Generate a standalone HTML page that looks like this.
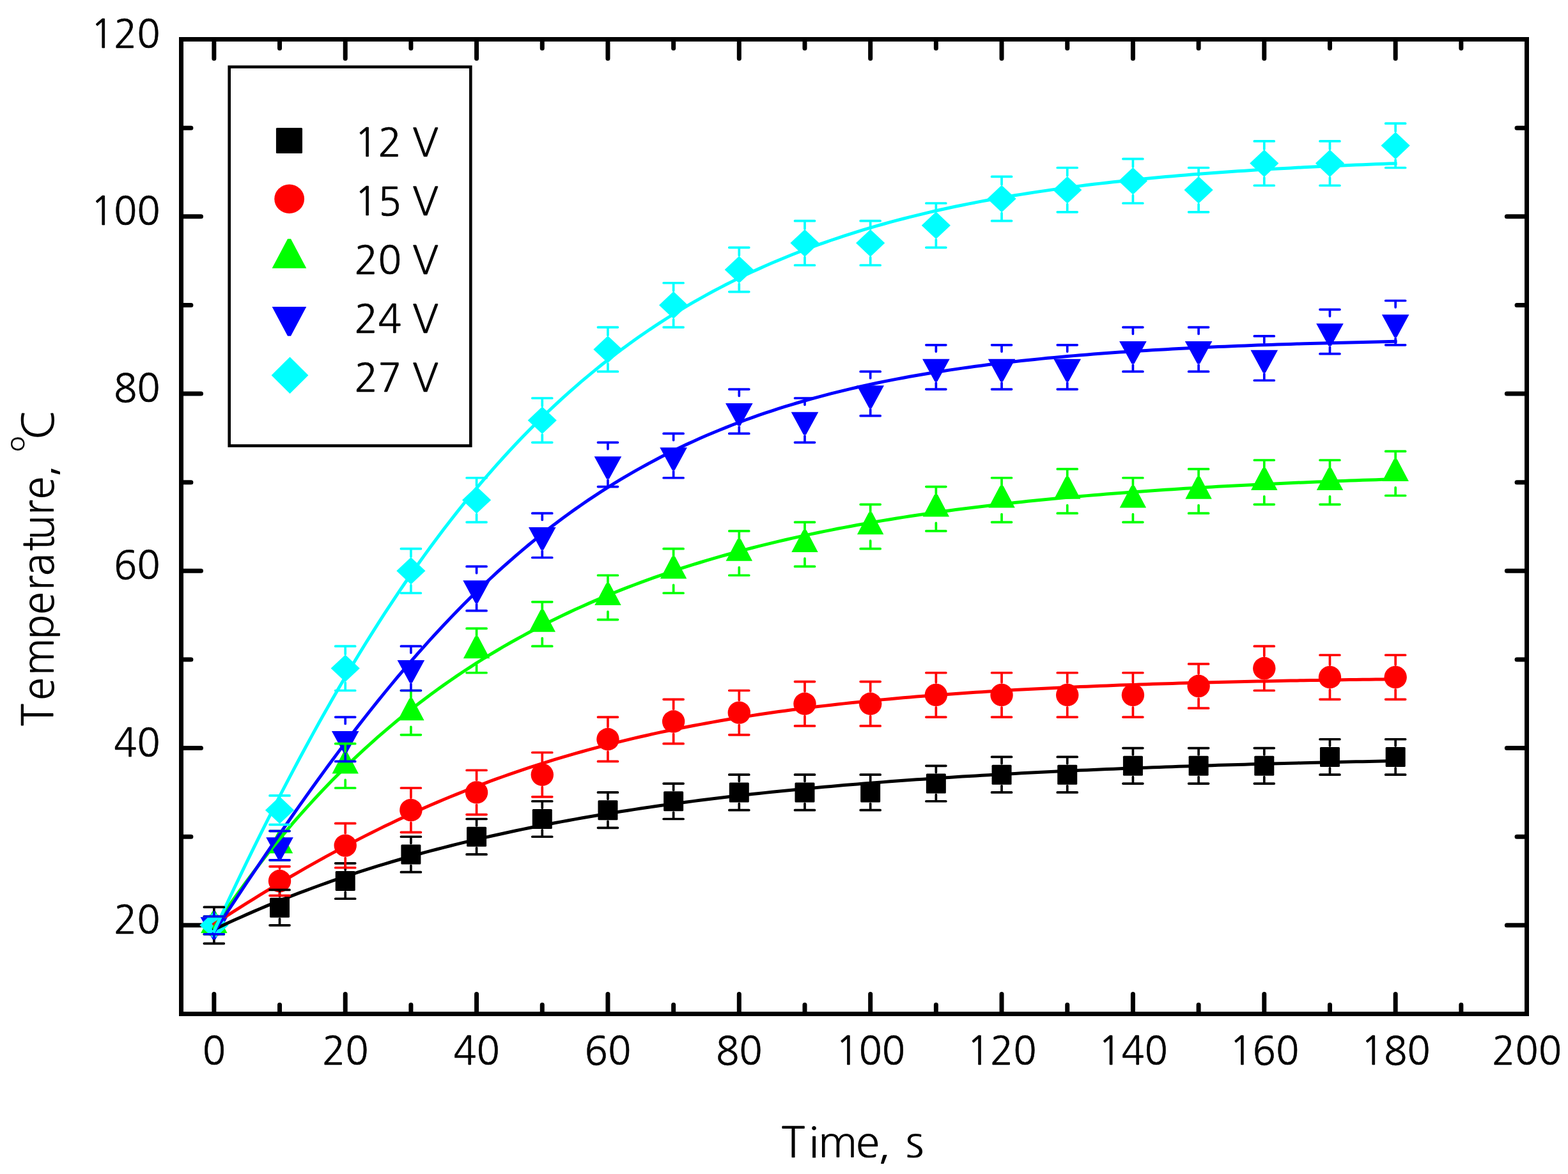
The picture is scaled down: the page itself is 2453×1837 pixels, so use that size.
<!DOCTYPE html>
<html><head><meta charset="utf-8"><style>html,body{margin:0;padding:0;background:#fff}svg{display:block}</style></head>
<body>
<svg width="2453" height="1837" viewBox="0 0 2453 1837">
<rect width="2453" height="1837" fill="#fff"/>
<rect x="283.5" y="61.5" width="2105.0" height="1525.0" fill="none" stroke="#000" stroke-width="7"/>
<path d="M334.84,1586.5V1555.5M334.84,61.5V91.5M437.52,1586.5V1572.2M437.52,61.5V75.5M540.21,1586.5V1555.5M540.21,61.5V91.5M642.89,1586.5V1572.2M642.89,61.5V75.5M745.57,1586.5V1555.5M745.57,61.5V91.5M848.26,1586.5V1572.2M848.26,61.5V75.5M950.94,1586.5V1555.5M950.94,61.5V91.5M1053.62,1586.5V1572.2M1053.62,61.5V75.5M1156.3,1586.5V1555.5M1156.3,61.5V91.5M1258.99,1586.5V1572.2M1258.99,61.5V75.5M1361.67,1586.5V1555.5M1361.67,61.5V91.5M1464.35,1586.5V1572.2M1464.35,61.5V75.5M1567.04,1586.5V1555.5M1567.04,61.5V91.5M1669.72,1586.5V1572.2M1669.72,61.5V75.5M1772.4,1586.5V1555.5M1772.4,61.5V91.5M1875.09,1586.5V1572.2M1875.09,61.5V75.5M1977.77,1586.5V1555.5M1977.77,61.5V91.5M2080.45,1586.5V1572.2M2080.45,61.5V75.5M2183.13,1586.5V1555.5M2183.13,61.5V91.5M2285.82,1586.5V1572.2M2285.82,61.5V75.5M283.5,1447.86H314.5M2388.5,1447.86H2357.3M283.5,1309.23H298.9M2388.5,1309.23H2373M283.5,1170.59H314.5M2388.5,1170.59H2357.3M283.5,1031.95H298.9M2388.5,1031.95H2373M283.5,893.32H314.5M2388.5,893.32H2357.3M283.5,754.68H298.9M2388.5,754.68H2373M283.5,616.05H314.5M2388.5,616.05H2357.3M283.5,477.41H298.9M2388.5,477.41H2373M283.5,338.77H314.5M2388.5,338.77H2357.3M283.5,200.14H298.9M2388.5,200.14H2373" stroke="#000" stroke-width="7" stroke-linecap="round" fill="none"/>
<g id="markers">
<rect x="319.34" y="1432.36" width="31" height="31" rx="1.5" fill="#000000"/>
<rect x="422.02" y="1404.64" width="31" height="31" rx="1.5" fill="#000000"/>
<rect x="524.71" y="1363.05" width="31" height="31" rx="1.5" fill="#000000"/>
<rect x="627.39" y="1321.45" width="31" height="31" rx="1.5" fill="#000000"/>
<rect x="730.07" y="1293.73" width="31" height="31" rx="1.5" fill="#000000"/>
<rect x="832.76" y="1266" width="31" height="31" rx="1.5" fill="#000000"/>
<rect x="935.44" y="1252.14" width="31" height="31" rx="1.5" fill="#000000"/>
<rect x="1038.12" y="1238.27" width="31" height="31" rx="1.5" fill="#000000"/>
<rect x="1140.8" y="1224.41" width="31" height="31" rx="1.5" fill="#000000"/>
<rect x="1243.49" y="1224.41" width="31" height="31" rx="1.5" fill="#000000"/>
<rect x="1346.17" y="1224.41" width="31" height="31" rx="1.5" fill="#000000"/>
<rect x="1448.85" y="1210.55" width="31" height="31" rx="1.5" fill="#000000"/>
<rect x="1551.54" y="1196.68" width="31" height="31" rx="1.5" fill="#000000"/>
<rect x="1654.22" y="1196.68" width="31" height="31" rx="1.5" fill="#000000"/>
<rect x="1756.9" y="1182.82" width="31" height="31" rx="1.5" fill="#000000"/>
<rect x="1859.59" y="1182.82" width="31" height="31" rx="1.5" fill="#000000"/>
<rect x="1962.27" y="1182.82" width="31" height="31" rx="1.5" fill="#000000"/>
<rect x="2064.95" y="1168.95" width="31" height="31" rx="1.5" fill="#000000"/>
<rect x="2167.63" y="1168.95" width="31" height="31" rx="1.5" fill="#000000"/>
<circle cx="334.84" cy="1447.86" r="17.7" fill="#FF0000"/>
<circle cx="437.52" cy="1378.55" r="17.7" fill="#FF0000"/>
<circle cx="540.21" cy="1323.09" r="17.7" fill="#FF0000"/>
<circle cx="642.89" cy="1267.64" r="17.7" fill="#FF0000"/>
<circle cx="745.57" cy="1239.91" r="17.7" fill="#FF0000"/>
<circle cx="848.26" cy="1212.18" r="17.7" fill="#FF0000"/>
<circle cx="950.94" cy="1156.73" r="17.7" fill="#FF0000"/>
<circle cx="1053.62" cy="1129" r="17.7" fill="#FF0000"/>
<circle cx="1156.3" cy="1115.14" r="17.7" fill="#FF0000"/>
<circle cx="1258.99" cy="1101.27" r="17.7" fill="#FF0000"/>
<circle cx="1361.67" cy="1101.27" r="17.7" fill="#FF0000"/>
<circle cx="1464.35" cy="1087.41" r="17.7" fill="#FF0000"/>
<circle cx="1567.04" cy="1087.41" r="17.7" fill="#FF0000"/>
<circle cx="1669.72" cy="1087.41" r="17.7" fill="#FF0000"/>
<circle cx="1772.4" cy="1087.41" r="17.7" fill="#FF0000"/>
<circle cx="1875.09" cy="1073.55" r="17.7" fill="#FF0000"/>
<circle cx="1977.77" cy="1045.82" r="17.7" fill="#FF0000"/>
<circle cx="2080.45" cy="1059.68" r="17.7" fill="#FF0000"/>
<circle cx="2183.13" cy="1059.68" r="17.7" fill="#FF0000"/>
<polygon points="332.24,1425.66 337.44,1425.66 355.54,1460.06 314.14,1460.06" fill="#00FF00"/>
<polygon points="434.92,1300.89 440.12,1300.89 458.22,1335.29 416.82,1335.29" fill="#00FF00"/>
<polygon points="537.61,1176.12 542.81,1176.12 560.91,1210.52 519.51,1210.52" fill="#00FF00"/>
<polygon points="640.29,1092.94 645.49,1092.94 663.59,1127.34 622.19,1127.34" fill="#00FF00"/>
<polygon points="742.97,995.89 748.17,995.89 766.27,1030.29 724.87,1030.29" fill="#00FF00"/>
<polygon points="845.66,954.3 850.86,954.3 868.96,988.7 827.56,988.7" fill="#00FF00"/>
<polygon points="948.34,912.71 953.54,912.71 971.64,947.11 930.24,947.11" fill="#00FF00"/>
<polygon points="1051.02,871.12 1056.22,871.12 1074.32,905.52 1032.92,905.52" fill="#00FF00"/>
<polygon points="1153.7,843.39 1158.9,843.39 1177,877.79 1135.6,877.79" fill="#00FF00"/>
<polygon points="1256.39,829.53 1261.59,829.53 1279.69,863.93 1238.29,863.93" fill="#00FF00"/>
<polygon points="1359.07,801.8 1364.27,801.8 1382.37,836.2 1340.97,836.2" fill="#00FF00"/>
<polygon points="1461.75,774.07 1466.95,774.07 1485.05,808.47 1443.65,808.47" fill="#00FF00"/>
<polygon points="1564.44,760.21 1569.64,760.21 1587.74,794.61 1546.34,794.61" fill="#00FF00"/>
<polygon points="1667.12,746.35 1672.32,746.35 1690.42,780.75 1649.02,780.75" fill="#00FF00"/>
<polygon points="1769.8,760.21 1775,760.21 1793.1,794.61 1751.7,794.61" fill="#00FF00"/>
<polygon points="1872.49,746.35 1877.69,746.35 1895.79,780.75 1854.39,780.75" fill="#00FF00"/>
<polygon points="1975.17,732.48 1980.37,732.48 1998.47,766.88 1957.07,766.88" fill="#00FF00"/>
<polygon points="2077.85,732.48 2083.05,732.48 2101.15,766.88 2059.75,766.88" fill="#00FF00"/>
<polygon points="2180.53,718.62 2185.73,718.62 2203.83,753.02 2162.43,753.02" fill="#00FF00"/>
<polygon points="313.54,1435.06 356.14,1435.06 336.84,1470.46 332.84,1470.46" fill="#0000FF"/>
<polygon points="416.22,1310.29 458.82,1310.29 439.52,1345.69 435.52,1345.69" fill="#0000FF"/>
<polygon points="518.91,1143.93 561.51,1143.93 542.21,1179.33 538.21,1179.33" fill="#0000FF"/>
<polygon points="621.59,1033.02 664.19,1033.02 644.89,1068.42 640.89,1068.42" fill="#0000FF"/>
<polygon points="724.27,908.25 766.87,908.25 747.57,943.65 743.57,943.65" fill="#0000FF"/>
<polygon points="826.96,825.06 869.56,825.06 850.26,860.46 846.26,860.46" fill="#0000FF"/>
<polygon points="929.64,714.15 972.24,714.15 952.94,749.55 948.94,749.55" fill="#0000FF"/>
<polygon points="1032.32,700.29 1074.92,700.29 1055.62,735.69 1051.62,735.69" fill="#0000FF"/>
<polygon points="1135,630.97 1177.6,630.97 1158.3,666.37 1154.3,666.37" fill="#0000FF"/>
<polygon points="1237.69,644.84 1280.29,644.84 1260.99,680.24 1256.99,680.24" fill="#0000FF"/>
<polygon points="1340.37,603.25 1382.97,603.25 1363.67,638.65 1359.67,638.65" fill="#0000FF"/>
<polygon points="1443.05,561.65 1485.65,561.65 1466.35,597.05 1462.35,597.05" fill="#0000FF"/>
<polygon points="1545.74,561.65 1588.34,561.65 1569.04,597.05 1565.04,597.05" fill="#0000FF"/>
<polygon points="1648.42,561.65 1691.02,561.65 1671.72,597.05 1667.72,597.05" fill="#0000FF"/>
<polygon points="1751.1,533.93 1793.7,533.93 1774.4,569.33 1770.4,569.33" fill="#0000FF"/>
<polygon points="1853.79,533.93 1896.39,533.93 1877.09,569.33 1873.09,569.33" fill="#0000FF"/>
<polygon points="1956.47,547.79 1999.07,547.79 1979.77,583.19 1975.77,583.19" fill="#0000FF"/>
<polygon points="2059.15,506.2 2101.75,506.2 2082.45,541.6 2078.45,541.6" fill="#0000FF"/>
<polygon points="2161.83,492.34 2204.43,492.34 2185.13,527.74 2181.13,527.74" fill="#0000FF"/>
<polygon points="334.84,1426.56 357.44,1447.86 334.84,1469.16 312.24,1447.86" fill="#00FFFF"/>
<polygon points="437.52,1246.34 460.12,1267.64 437.52,1288.94 414.92,1267.64" fill="#00FFFF"/>
<polygon points="540.21,1024.52 562.81,1045.82 540.21,1067.12 517.61,1045.82" fill="#00FFFF"/>
<polygon points="642.89,872.02 665.49,893.32 642.89,914.62 620.29,893.32" fill="#00FFFF"/>
<polygon points="745.57,761.11 768.17,782.41 745.57,803.71 722.97,782.41" fill="#00FFFF"/>
<polygon points="848.26,636.34 870.86,657.64 848.26,678.94 825.66,657.64" fill="#00FFFF"/>
<polygon points="950.94,525.43 973.54,546.73 950.94,568.03 928.34,546.73" fill="#00FFFF"/>
<polygon points="1053.62,456.11 1076.22,477.41 1053.62,498.71 1031.02,477.41" fill="#00FFFF"/>
<polygon points="1156.3,400.65 1178.9,421.95 1156.3,443.25 1133.7,421.95" fill="#00FFFF"/>
<polygon points="1258.99,359.06 1281.59,380.36 1258.99,401.66 1236.39,380.36" fill="#00FFFF"/>
<polygon points="1361.67,359.06 1384.27,380.36 1361.67,401.66 1339.07,380.36" fill="#00FFFF"/>
<polygon points="1464.35,331.34 1486.95,352.64 1464.35,373.94 1441.75,352.64" fill="#00FFFF"/>
<polygon points="1567.04,289.75 1589.64,311.05 1567.04,332.35 1544.44,311.05" fill="#00FFFF"/>
<polygon points="1669.72,275.88 1692.32,297.18 1669.72,318.48 1647.12,297.18" fill="#00FFFF"/>
<polygon points="1772.4,262.02 1795,283.32 1772.4,304.62 1749.8,283.32" fill="#00FFFF"/>
<polygon points="1875.09,275.88 1897.69,297.18 1875.09,318.48 1852.49,297.18" fill="#00FFFF"/>
<polygon points="1977.77,234.29 2000.37,255.59 1977.77,276.89 1955.17,255.59" fill="#00FFFF"/>
<polygon points="2080.45,234.29 2103.05,255.59 2080.45,276.89 2057.85,255.59" fill="#00FFFF"/>
<polygon points="2183.13,206.56 2205.73,227.86 2183.13,249.16 2160.53,227.86" fill="#00FFFF"/>
</g>
<g id="fits" fill="none" stroke-width="5" stroke-linejoin="round" stroke-linecap="square">
<path d="M334.84,1454.53 L345.11,1449.63 L355.38,1444.81 L365.65,1440.08 L375.91,1435.44 L386.18,1430.87 L396.45,1426.39 L406.72,1421.99 L416.99,1417.67 L427.26,1413.42 L437.52,1409.25 L447.79,1405.16 L458.06,1401.14 L468.33,1397.19 L478.6,1393.31 L488.87,1389.5 L499.13,1385.76 L509.4,1382.08 L519.67,1378.47 L529.94,1374.93 L540.21,1371.44 L550.48,1368.02 L560.74,1364.67 L571.01,1361.37 L581.28,1358.13 L591.55,1354.94 L601.82,1351.82 L612.09,1348.75 L622.35,1345.74 L632.62,1342.77 L642.89,1339.87 L653.16,1337.01 L663.43,1334.21 L673.7,1331.45 L683.96,1328.75 L694.23,1326.09 L704.5,1323.48 L714.77,1320.91 L725.04,1318.4 L735.3,1315.92 L745.57,1313.5 L755.84,1311.11 L766.11,1308.77 L776.38,1306.47 L786.65,1304.21 L796.91,1301.99 L807.18,1299.81 L817.45,1297.67 L827.72,1295.56 L837.99,1293.5 L848.26,1291.47 L858.52,1289.48 L868.79,1287.52 L879.06,1285.6 L889.33,1283.71 L899.6,1281.86 L909.87,1280.04 L920.13,1278.25 L930.4,1276.5 L940.67,1274.77 L950.94,1273.08 L961.21,1271.41 L971.48,1269.78 L981.74,1268.18 L992.01,1266.6 L1002.28,1265.05 L1012.55,1263.53 L1022.82,1262.04 L1033.09,1260.57 L1043.35,1259.13 L1053.62,1257.72 L1063.89,1256.33 L1074.16,1254.96 L1084.43,1253.62 L1094.7,1252.31 L1104.96,1251.01 L1115.23,1249.74 L1125.5,1248.5 L1135.77,1247.27 L1146.04,1246.07 L1156.3,1244.89 L1166.57,1243.73 L1176.84,1242.59 L1187.11,1241.47 L1197.38,1240.37 L1207.65,1239.29 L1217.91,1238.23 L1228.18,1237.19 L1238.45,1236.17 L1248.72,1235.16 L1258.99,1234.17 L1269.26,1233.21 L1279.52,1232.25 L1289.79,1231.32 L1300.06,1230.4 L1310.33,1229.5 L1320.6,1228.61 L1330.87,1227.74 L1341.13,1226.89 L1351.4,1226.05 L1361.67,1225.23 L1371.94,1224.42 L1382.21,1223.62 L1392.48,1222.84 L1402.74,1222.08 L1413.01,1221.32 L1423.28,1220.58 L1433.55,1219.86 L1443.82,1219.14 L1454.09,1218.44 L1464.35,1217.75 L1474.62,1217.08 L1484.89,1216.42 L1495.16,1215.76 L1505.43,1215.12 L1515.7,1214.49 L1525.96,1213.88 L1536.23,1213.27 L1546.5,1212.67 L1556.77,1212.09 L1567.04,1211.51 L1577.3,1210.95 L1587.57,1210.4 L1597.84,1209.85 L1608.11,1209.32 L1618.38,1208.79 L1628.65,1208.28 L1638.91,1207.77 L1649.18,1207.27 L1659.45,1206.78 L1669.72,1206.3 L1679.99,1205.83 L1690.26,1205.37 L1700.52,1204.91 L1710.79,1204.47 L1721.06,1204.03 L1731.33,1203.6 L1741.6,1203.17 L1751.87,1202.76 L1762.13,1202.35 L1772.4,1201.95 L1782.67,1201.56 L1792.94,1201.17 L1803.21,1200.79 L1813.48,1200.42 L1823.74,1200.05 L1834.01,1199.69 L1844.28,1199.34 L1854.55,1198.99 L1864.82,1198.65 L1875.09,1198.32 L1885.35,1197.99 L1895.62,1197.66 L1905.89,1197.35 L1916.16,1197.03 L1926.43,1196.73 L1936.7,1196.43 L1946.96,1196.13 L1957.23,1195.84 L1967.5,1195.56 L1977.77,1195.28 L1988.04,1195.01 L1998.3,1194.74 L2008.57,1194.47 L2018.84,1194.21 L2029.11,1193.95 L2039.38,1193.7 L2049.65,1193.46 L2059.91,1193.22 L2070.18,1192.98 L2080.45,1192.74 L2090.72,1192.52 L2100.99,1192.29 L2111.26,1192.07 L2121.52,1191.85 L2131.79,1191.64 L2142.06,1191.43 L2152.33,1191.22 L2162.6,1191.02 L2172.87,1190.82 L2183.13,1190.63" stroke="#000000"/>
<path d="M334.84,1445.87 L345.11,1439.23 L355.38,1432.64 L365.65,1426.09 L375.91,1419.6 L386.18,1413.17 L396.45,1406.78 L406.72,1400.46 L416.99,1394.19 L427.26,1387.99 L437.52,1381.85 L447.79,1375.77 L458.06,1369.75 L468.33,1363.8 L478.6,1357.92 L488.87,1352.1 L499.13,1346.36 L509.4,1340.68 L519.67,1335.08 L529.94,1329.54 L540.21,1324.08 L550.48,1318.69 L560.74,1313.37 L571.01,1308.13 L581.28,1302.96 L591.55,1297.87 L601.82,1292.85 L612.09,1287.91 L622.35,1283.04 L632.62,1278.24 L642.89,1273.52 L653.16,1268.88 L663.43,1264.31 L673.7,1259.82 L683.96,1255.4 L694.23,1251.05 L704.5,1246.78 L714.77,1242.59 L725.04,1238.47 L735.3,1234.42 L745.57,1230.44 L755.84,1226.54 L766.11,1222.7 L776.38,1218.94 L786.65,1215.25 L796.91,1211.63 L807.18,1208.08 L817.45,1204.6 L827.72,1201.18 L837.99,1197.84 L848.26,1194.56 L858.52,1191.34 L868.79,1188.19 L879.06,1185.1 L889.33,1182.08 L899.6,1179.12 L909.87,1176.22 L920.13,1173.38 L930.4,1170.61 L940.67,1167.89 L950.94,1165.23 L961.21,1162.62 L971.48,1160.08 L981.74,1157.59 L992.01,1155.15 L1002.28,1152.77 L1012.55,1150.44 L1022.82,1148.16 L1033.09,1145.93 L1043.35,1143.75 L1053.62,1141.63 L1063.89,1139.55 L1074.16,1137.52 L1084.43,1135.53 L1094.7,1133.59 L1104.96,1131.7 L1115.23,1129.85 L1125.5,1128.04 L1135.77,1126.28 L1146.04,1124.56 L1156.3,1122.87 L1166.57,1121.23 L1176.84,1119.63 L1187.11,1118.06 L1197.38,1116.54 L1207.65,1115.05 L1217.91,1113.59 L1228.18,1112.17 L1238.45,1110.79 L1248.72,1109.44 L1258.99,1108.12 L1269.26,1106.83 L1279.52,1105.58 L1289.79,1104.36 L1300.06,1103.16 L1310.33,1102 L1320.6,1100.87 L1330.87,1099.76 L1341.13,1098.68 L1351.4,1097.63 L1361.67,1096.6 L1371.94,1095.6 L1382.21,1094.63 L1392.48,1093.68 L1402.74,1092.75 L1413.01,1091.85 L1423.28,1090.97 L1433.55,1090.11 L1443.82,1089.28 L1454.09,1088.46 L1464.35,1087.67 L1474.62,1086.9 L1484.89,1086.14 L1495.16,1085.41 L1505.43,1084.69 L1515.7,1083.99 L1525.96,1083.32 L1536.23,1082.65 L1546.5,1082.01 L1556.77,1081.38 L1567.04,1080.77 L1577.3,1080.17 L1587.57,1079.59 L1597.84,1079.03 L1608.11,1078.48 L1618.38,1077.94 L1628.65,1077.42 L1638.91,1076.91 L1649.18,1076.41 L1659.45,1075.93 L1669.72,1075.46 L1679.99,1075.01 L1690.26,1074.56 L1700.52,1074.13 L1710.79,1073.7 L1721.06,1073.29 L1731.33,1072.89 L1741.6,1072.5 L1751.87,1072.12 L1762.13,1071.75 L1772.4,1071.39 L1782.67,1071.04 L1792.94,1070.7 L1803.21,1070.37 L1813.48,1070.04 L1823.74,1069.73 L1834.01,1069.42 L1844.28,1069.12 L1854.55,1068.83 L1864.82,1068.55 L1875.09,1068.28 L1885.35,1068.01 L1895.62,1067.75 L1905.89,1067.49 L1916.16,1067.25 L1926.43,1067 L1936.7,1066.77 L1946.96,1066.54 L1957.23,1066.32 L1967.5,1066.1 L1977.77,1065.89 L1988.04,1065.69 L1998.3,1065.49 L2008.57,1065.3 L2018.84,1065.11 L2029.11,1064.92 L2039.38,1064.75 L2049.65,1064.57 L2059.91,1064.4 L2070.18,1064.24 L2080.45,1064.08 L2090.72,1063.92 L2100.99,1063.77 L2111.26,1063.62 L2121.52,1063.48 L2131.79,1063.34 L2142.06,1063.2 L2152.33,1063.07 L2162.6,1062.94 L2172.87,1062.81 L2183.13,1062.69" stroke="#FF0000"/>
<path d="M334.84,1451.62 L345.11,1436.33 L355.38,1421.37 L365.65,1406.73 L375.91,1392.4 L386.18,1378.38 L396.45,1364.65 L406.72,1351.22 L416.99,1338.07 L427.26,1325.21 L437.52,1312.62 L447.79,1300.29 L458.06,1288.23 L468.33,1276.43 L478.6,1264.88 L488.87,1253.58 L499.13,1242.51 L509.4,1231.69 L519.67,1221.09 L529.94,1210.72 L540.21,1200.57 L550.48,1190.64 L560.74,1180.92 L571.01,1171.4 L581.28,1162.09 L591.55,1152.98 L601.82,1144.06 L612.09,1135.34 L622.35,1126.79 L632.62,1118.44 L642.89,1110.25 L653.16,1102.25 L663.43,1094.41 L673.7,1086.74 L683.96,1079.24 L694.23,1071.89 L704.5,1064.71 L714.77,1057.67 L725.04,1050.79 L735.3,1044.05 L745.57,1037.45 L755.84,1031 L766.11,1024.68 L776.38,1018.5 L786.65,1012.45 L796.91,1006.53 L807.18,1000.74 L817.45,995.07 L827.72,989.52 L837.99,984.09 L848.26,978.77 L858.52,973.57 L868.79,968.48 L879.06,963.5 L889.33,958.62 L899.6,953.85 L909.87,949.18 L920.13,944.61 L930.4,940.13 L940.67,935.76 L950.94,931.47 L961.21,927.28 L971.48,923.17 L981.74,919.16 L992.01,915.23 L1002.28,911.38 L1012.55,907.62 L1022.82,903.93 L1033.09,900.33 L1043.35,896.8 L1053.62,893.34 L1063.89,889.96 L1074.16,886.66 L1084.43,883.42 L1094.7,880.25 L1104.96,877.15 L1115.23,874.12 L1125.5,871.15 L1135.77,868.24 L1146.04,865.39 L1156.3,862.61 L1166.57,859.89 L1176.84,857.22 L1187.11,854.61 L1197.38,852.06 L1207.65,849.56 L1217.91,847.11 L1228.18,844.72 L1238.45,842.37 L1248.72,840.08 L1258.99,837.84 L1269.26,835.64 L1279.52,833.49 L1289.79,831.39 L1300.06,829.33 L1310.33,827.32 L1320.6,825.34 L1330.87,823.42 L1341.13,821.53 L1351.4,819.68 L1361.67,817.87 L1371.94,816.1 L1382.21,814.37 L1392.48,812.67 L1402.74,811.01 L1413.01,809.39 L1423.28,807.8 L1433.55,806.24 L1443.82,804.72 L1454.09,803.23 L1464.35,801.77 L1474.62,800.35 L1484.89,798.95 L1495.16,797.58 L1505.43,796.25 L1515.7,794.94 L1525.96,793.66 L1536.23,792.4 L1546.5,791.18 L1556.77,789.98 L1567.04,788.8 L1577.3,787.65 L1587.57,786.52 L1597.84,785.42 L1608.11,784.34 L1618.38,783.29 L1628.65,782.26 L1638.91,781.25 L1649.18,780.26 L1659.45,779.29 L1669.72,778.34 L1679.99,777.42 L1690.26,776.51 L1700.52,775.62 L1710.79,774.75 L1721.06,773.9 L1731.33,773.07 L1741.6,772.25 L1751.87,771.46 L1762.13,770.68 L1772.4,769.91 L1782.67,769.17 L1792.94,768.43 L1803.21,767.72 L1813.48,767.02 L1823.74,766.33 L1834.01,765.66 L1844.28,765 L1854.55,764.36 L1864.82,763.73 L1875.09,763.12 L1885.35,762.52 L1895.62,761.93 L1905.89,761.35 L1916.16,760.78 L1926.43,760.23 L1936.7,759.69 L1946.96,759.16 L1957.23,758.64 L1967.5,758.14 L1977.77,757.64 L1988.04,757.16 L1998.3,756.68 L2008.57,756.22 L2018.84,755.76 L2029.11,755.31 L2039.38,754.88 L2049.65,754.45 L2059.91,754.03 L2070.18,753.63 L2080.45,753.23 L2090.72,752.83 L2100.99,752.45 L2111.26,752.08 L2121.52,751.71 L2131.79,751.35 L2142.06,751 L2152.33,750.66 L2162.6,750.32 L2172.87,749.99 L2183.13,749.67" stroke="#00FF00"/>
<path d="M334.84,1458.6 L345.11,1442.96 L355.38,1427.37 L365.65,1411.83 L375.91,1396.35 L386.18,1380.94 L396.45,1365.6 L406.72,1350.35 L416.99,1335.18 L427.26,1320.1 L437.52,1305.13 L447.79,1290.27 L458.06,1275.51 L468.33,1260.88 L478.6,1246.37 L488.87,1232 L499.13,1217.75 L509.4,1203.65 L519.67,1189.69 L529.94,1175.88 L540.21,1162.23 L550.48,1148.73 L560.74,1135.39 L571.01,1122.22 L581.28,1109.22 L591.55,1096.39 L601.82,1083.73 L612.09,1071.25 L622.35,1058.94 L632.62,1046.82 L642.89,1034.88 L653.16,1023.13 L663.43,1011.56 L673.7,1000.17 L683.96,988.98 L694.23,977.97 L704.5,967.15 L714.77,956.52 L725.04,946.08 L735.3,935.83 L745.57,925.77 L755.84,915.89 L766.11,906.21 L776.38,896.71 L786.65,887.4 L796.91,878.27 L807.18,869.33 L817.45,860.57 L827.72,851.99 L837.99,843.59 L848.26,835.37 L858.52,827.33 L868.79,819.46 L879.06,811.77 L889.33,804.24 L899.6,796.88 L909.87,789.69 L920.13,782.67 L930.4,775.81 L940.67,769.1 L950.94,762.56 L961.21,756.17 L971.48,749.93 L981.74,743.84 L992.01,737.9 L1002.28,732.1 L1012.55,726.45 L1022.82,720.94 L1033.09,715.56 L1043.35,710.32 L1053.62,705.21 L1063.89,700.23 L1074.16,695.38 L1084.43,690.66 L1094.7,686.05 L1104.96,681.57 L1115.23,677.2 L1125.5,672.95 L1135.77,668.81 L1146.04,664.77 L1156.3,660.85 L1166.57,657.03 L1176.84,653.32 L1187.11,649.7 L1197.38,646.18 L1207.65,642.76 L1217.91,639.43 L1228.18,636.19 L1238.45,633.04 L1248.72,629.98 L1258.99,627.01 L1269.26,624.11 L1279.52,621.3 L1289.79,618.56 L1300.06,615.9 L1310.33,613.32 L1320.6,610.81 L1330.87,608.37 L1341.13,606 L1351.4,603.69 L1361.67,601.46 L1371.94,599.28 L1382.21,597.17 L1392.48,595.12 L1402.74,593.13 L1413.01,591.19 L1423.28,589.31 L1433.55,587.49 L1443.82,585.71 L1454.09,583.99 L1464.35,582.32 L1474.62,580.7 L1484.89,579.12 L1495.16,577.6 L1505.43,576.11 L1515.7,574.67 L1525.96,573.27 L1536.23,571.91 L1546.5,570.6 L1556.77,569.32 L1567.04,568.08 L1577.3,566.87 L1587.57,565.7 L1597.84,564.57 L1608.11,563.47 L1618.38,562.4 L1628.65,561.37 L1638.91,560.36 L1649.18,559.39 L1659.45,558.44 L1669.72,557.52 L1679.99,556.63 L1690.26,555.77 L1700.52,554.93 L1710.79,554.11 L1721.06,553.33 L1731.33,552.56 L1741.6,551.82 L1751.87,551.1 L1762.13,550.4 L1772.4,549.72 L1782.67,549.07 L1792.94,548.43 L1803.21,547.81 L1813.48,547.21 L1823.74,546.63 L1834.01,546.07 L1844.28,545.52 L1854.55,544.99 L1864.82,544.48 L1875.09,543.98 L1885.35,543.49 L1895.62,543.03 L1905.89,542.57 L1916.16,542.13 L1926.43,541.7 L1936.7,541.29 L1946.96,540.89 L1957.23,540.5 L1967.5,540.12 L1977.77,539.75 L1988.04,539.4 L1998.3,539.05 L2008.57,538.72 L2018.84,538.39 L2029.11,538.08 L2039.38,537.78 L2049.65,537.48 L2059.91,537.19 L2070.18,536.92 L2080.45,536.65 L2090.72,536.39 L2100.99,536.13 L2111.26,535.89 L2121.52,535.65 L2131.79,535.42 L2142.06,535.2 L2152.33,534.98 L2162.6,534.77 L2172.87,534.57 L2183.13,534.37" stroke="#0000FF"/>
<path d="M334.84,1457.14 L345.11,1435.02 L355.38,1413.12 L365.65,1391.43 L375.91,1369.95 L386.18,1348.71 L396.45,1327.69 L406.72,1306.9 L416.99,1286.35 L427.26,1266.04 L437.52,1245.97 L447.79,1226.15 L458.06,1206.58 L468.33,1187.26 L478.6,1168.19 L488.87,1149.38 L499.13,1130.83 L509.4,1112.53 L519.67,1094.5 L529.94,1076.73 L540.21,1059.22 L550.48,1041.97 L560.74,1024.99 L571.01,1008.27 L581.28,991.82 L591.55,975.63 L601.82,959.7 L612.09,944.04 L622.35,928.64 L632.62,913.5 L642.89,898.62 L653.16,884 L663.43,869.63 L673.7,855.53 L683.96,841.68 L694.23,828.08 L704.5,814.73 L714.77,801.63 L725.04,788.77 L735.3,776.17 L745.57,763.8 L755.84,751.67 L766.11,739.78 L776.38,728.13 L786.65,716.71 L796.91,705.52 L807.18,694.55 L817.45,683.81 L827.72,673.29 L837.99,662.98 L848.26,652.9 L858.52,643.02 L868.79,633.35 L879.06,623.89 L889.33,614.64 L899.6,605.58 L909.87,596.72 L920.13,588.05 L930.4,579.57 L940.67,571.29 L950.94,563.18 L961.21,555.26 L971.48,547.51 L981.74,539.94 L992.01,532.54 L1002.28,525.31 L1012.55,518.24 L1022.82,511.34 L1033.09,504.6 L1043.35,498.01 L1053.62,491.58 L1063.89,485.3 L1074.16,479.16 L1084.43,473.17 L1094.7,467.32 L1104.96,461.61 L1115.23,456.04 L1125.5,450.6 L1135.77,445.29 L1146.04,440.11 L1156.3,435.05 L1166.57,430.12 L1176.84,425.3 L1187.11,420.61 L1197.38,416.03 L1207.65,411.56 L1217.91,407.2 L1228.18,402.94 L1238.45,398.8 L1248.72,394.75 L1258.99,390.81 L1269.26,386.96 L1279.52,383.21 L1289.79,379.55 L1300.06,375.99 L1310.33,372.51 L1320.6,369.12 L1330.87,365.82 L1341.13,362.6 L1351.4,359.46 L1361.67,356.4 L1371.94,353.42 L1382.21,350.52 L1392.48,347.69 L1402.74,344.93 L1413.01,342.24 L1423.28,339.62 L1433.55,337.07 L1443.82,334.58 L1454.09,332.16 L1464.35,329.79 L1474.62,327.49 L1484.89,325.25 L1495.16,323.07 L1505.43,320.94 L1515.7,318.87 L1525.96,316.86 L1536.23,314.89 L1546.5,312.98 L1556.77,311.11 L1567.04,309.3 L1577.3,307.53 L1587.57,305.8 L1597.84,304.13 L1608.11,302.49 L1618.38,300.9 L1628.65,299.35 L1638.91,297.85 L1649.18,296.38 L1659.45,294.95 L1669.72,293.55 L1679.99,292.2 L1690.26,290.88 L1700.52,289.59 L1710.79,288.34 L1721.06,287.12 L1731.33,285.93 L1741.6,284.78 L1751.87,283.65 L1762.13,282.56 L1772.4,281.49 L1782.67,280.46 L1792.94,279.44 L1803.21,278.46 L1813.48,277.5 L1823.74,276.57 L1834.01,275.66 L1844.28,274.78 L1854.55,273.92 L1864.82,273.08 L1875.09,272.27 L1885.35,271.48 L1895.62,270.7 L1905.89,269.95 L1916.16,269.22 L1926.43,268.51 L1936.7,267.82 L1946.96,267.14 L1957.23,266.49 L1967.5,265.85 L1977.77,265.23 L1988.04,264.62 L1998.3,264.03 L2008.57,263.46 L2018.84,262.9 L2029.11,262.36 L2039.38,261.83 L2049.65,261.32 L2059.91,260.81 L2070.18,260.33 L2080.45,259.85 L2090.72,259.39 L2100.99,258.94 L2111.26,258.51 L2121.52,258.08 L2131.79,257.67 L2142.06,257.26 L2152.33,256.87 L2162.6,256.49 L2172.87,256.12 L2183.13,255.76" stroke="#00FFFF"/>
</g>
<g id="errs" fill="none" stroke-width="3.7" stroke-linecap="round">
<path d="M334.84,1419.44V1430.51M334.84,1465.21V1476.28M319.34,1419.44H350.34M319.34,1476.28H350.34M437.52,1392.41V1402.79M437.52,1437.49V1447.86M422.02,1392.41H453.02M422.02,1447.86H453.02M540.21,1350.82V1361.2M540.21,1395.9V1406.27M524.71,1350.82H555.71M524.71,1406.27H555.71M642.89,1309.23V1319.6M642.89,1354.3V1364.68M627.39,1309.23H658.39M627.39,1364.68H658.39M745.57,1281.5V1291.88M745.57,1326.58V1336.95M730.07,1281.5H761.07M730.07,1336.95H761.07M848.26,1253.77V1264.15M848.26,1298.85V1309.23M832.76,1253.77H863.76M832.76,1309.23H863.76M950.94,1239.91V1250.29M950.94,1284.99V1295.36M935.44,1239.91H966.44M935.44,1295.36H966.44M1053.62,1226.05V1236.42M1053.62,1271.12V1281.5M1038.12,1226.05H1069.12M1038.12,1281.5H1069.12M1156.3,1212.18V1222.56M1156.3,1257.26V1267.64M1140.8,1212.18H1171.8M1140.8,1267.64H1171.8M1258.99,1212.18V1222.56M1258.99,1257.26V1267.64M1243.49,1212.18H1274.49M1243.49,1267.64H1274.49M1361.67,1212.18V1222.56M1361.67,1257.26V1267.64M1346.17,1212.18H1377.17M1346.17,1267.64H1377.17M1464.35,1198.32V1208.7M1464.35,1243.4V1253.77M1448.85,1198.32H1479.85M1448.85,1253.77H1479.85M1567.04,1184.45V1194.83M1567.04,1229.53V1239.91M1551.54,1184.45H1582.54M1551.54,1239.91H1582.54M1669.72,1184.45V1194.83M1669.72,1229.53V1239.91M1654.22,1184.45H1685.22M1654.22,1239.91H1685.22M1772.4,1170.59V1180.97M1772.4,1215.67V1226.05M1756.9,1170.59H1787.9M1756.9,1226.05H1787.9M1875.09,1170.59V1180.97M1875.09,1215.67V1226.05M1859.59,1170.59H1890.59M1859.59,1226.05H1890.59M1977.77,1170.59V1180.97M1977.77,1215.67V1226.05M1962.27,1170.59H1993.27M1962.27,1226.05H1993.27M2080.45,1156.73V1167.1M2080.45,1201.8V1212.18M2064.95,1156.73H2095.95M2064.95,1212.18H2095.95M2183.13,1156.73V1167.1M2183.13,1201.8V1212.18M2167.63,1156.73H2198.63M2167.63,1212.18H2198.63" stroke="#000000"/>
<path d="M334.84,1432.11V1434M334.84,1461.73V1463.61M319.34,1434H350.34M319.34,1461.73H350.34M437.52,1355.81V1359.1M437.52,1398V1401.28M422.02,1355.81H453.02M422.02,1401.28H453.02M540.21,1288.43V1303.64M540.21,1342.54V1357.75M524.71,1288.43H555.71M524.71,1357.75H555.71M642.89,1232.98V1248.19M642.89,1287.09V1302.3M627.39,1232.98H658.39M627.39,1302.3H658.39M745.57,1205.25V1220.46M745.57,1259.36V1274.57M730.07,1205.25H761.07M730.07,1274.57H761.07M848.26,1177.52V1192.73M848.26,1231.63V1246.84M832.76,1177.52H863.76M832.76,1246.84H863.76M950.94,1122.07V1137.28M950.94,1176.18V1191.39M935.44,1122.07H966.44M935.44,1191.39H966.44M1053.62,1094.34V1109.55M1053.62,1148.45V1163.66M1038.12,1094.34H1069.12M1038.12,1163.66H1069.12M1156.3,1080.48V1095.69M1156.3,1134.59V1149.8M1140.8,1080.48H1171.8M1140.8,1149.8H1171.8M1258.99,1066.61V1081.82M1258.99,1120.72V1135.93M1243.49,1066.61H1274.49M1243.49,1135.93H1274.49M1361.67,1066.61V1081.82M1361.67,1120.72V1135.93M1346.17,1066.61H1377.17M1346.17,1135.93H1377.17M1464.35,1052.75V1067.96M1464.35,1106.86V1122.07M1448.85,1052.75H1479.85M1448.85,1122.07H1479.85M1567.04,1052.75V1067.96M1567.04,1106.86V1122.07M1551.54,1052.75H1582.54M1551.54,1122.07H1582.54M1669.72,1052.75V1067.96M1669.72,1106.86V1122.07M1654.22,1052.75H1685.22M1654.22,1122.07H1685.22M1772.4,1052.75V1067.96M1772.4,1106.86V1122.07M1756.9,1052.75H1787.9M1756.9,1122.07H1787.9M1875.09,1038.89V1054.1M1875.09,1093V1108.2M1859.59,1038.89H1890.59M1859.59,1108.2H1890.59M1977.77,1011.16V1026.37M1977.77,1065.27V1080.48M1962.27,1011.16H1993.27M1962.27,1080.48H1993.27M2080.45,1025.02V1040.23M2080.45,1079.13V1094.34M2064.95,1025.02H2095.95M2064.95,1094.34H2095.95M2183.13,1025.02V1040.23M2183.13,1079.13V1094.34M2167.63,1025.02H2198.63M2167.63,1094.34H2198.63" stroke="#FF0000"/>
<path d="M334.84,1429.41V1434M334.84,1461.73V1466.31M319.34,1434H350.34M319.34,1461.73H350.34M437.52,1300.35V1300.94M437.52,1345.24V1345.83M422.02,1300.35H453.02M422.02,1345.83H453.02M540.21,1163.66V1176.17M540.21,1220.47V1232.98M524.71,1163.66H555.71M524.71,1232.98H555.71M642.89,1080.48V1092.99M642.89,1137.29V1149.8M627.39,1080.48H658.39M627.39,1149.8H658.39M745.57,983.43V995.94M745.57,1040.24V1052.75M730.07,983.43H761.07M730.07,1052.75H761.07M848.26,941.84V954.35M848.26,998.65V1011.16M832.76,941.84H863.76M832.76,1011.16H863.76M950.94,900.25V912.76M950.94,957.06V969.57M935.44,900.25H966.44M935.44,969.57H966.44M1053.62,858.66V871.17M1053.62,915.47V927.98M1038.12,858.66H1069.12M1038.12,927.98H1069.12M1156.3,830.93V843.44M1156.3,887.74V900.25M1140.8,830.93H1171.8M1140.8,900.25H1171.8M1258.99,817.07V829.58M1258.99,873.88V886.39M1243.49,817.07H1274.49M1243.49,886.39H1274.49M1361.67,789.34V801.85M1361.67,846.15V858.66M1346.17,789.34H1377.17M1346.17,858.66H1377.17M1464.35,761.61V774.12M1464.35,818.42V830.93M1448.85,761.61H1479.85M1448.85,830.93H1479.85M1567.04,747.75V760.26M1567.04,804.56V817.07M1551.54,747.75H1582.54M1551.54,817.07H1582.54M1669.72,733.89V746.4M1669.72,790.7V803.2M1654.22,733.89H1685.22M1654.22,803.2H1685.22M1772.4,747.75V760.26M1772.4,804.56V817.07M1756.9,747.75H1787.9M1756.9,817.07H1787.9M1875.09,733.89V746.4M1875.09,790.7V803.2M1859.59,733.89H1890.59M1859.59,803.2H1890.59M1977.77,720.02V732.53M1977.77,776.83V789.34M1962.27,720.02H1993.27M1962.27,789.34H1993.27M2080.45,720.02V732.53M2080.45,776.83V789.34M2064.95,720.02H2095.95M2064.95,789.34H2095.95M2183.13,706.16V718.67M2183.13,762.97V775.48M2167.63,706.16H2198.63M2167.63,775.48H2198.63" stroke="#00FF00"/>
<path d="M334.84,1427.21V1434M334.84,1461.73V1468.51M319.34,1434H350.34M319.34,1461.73H350.34M422.02,1300.35H453.02M422.02,1345.83H453.02M540.21,1122.07V1132.38M540.21,1181.08V1191.39M524.71,1122.07H555.71M524.71,1191.39H555.71M642.89,1011.16V1021.47M642.89,1070.17V1080.48M627.39,1011.16H658.39M627.39,1080.48H658.39M745.57,886.39V896.7M745.57,945.4V955.7M730.07,886.39H761.07M730.07,955.7H761.07M848.26,803.2V813.51M848.26,862.21V872.52M832.76,803.2H863.76M832.76,872.52H863.76M950.94,692.3V702.6M950.94,751.3V761.61M935.44,692.3H966.44M935.44,761.61H966.44M1053.62,678.43V688.74M1053.62,737.44V747.75M1038.12,678.43H1069.12M1038.12,747.75H1069.12M1156.3,609.11V619.42M1156.3,668.12V678.43M1140.8,609.11H1171.8M1140.8,678.43H1171.8M1258.99,622.98V633.29M1258.99,681.99V692.3M1243.49,622.98H1274.49M1243.49,692.3H1274.49M1361.67,581.39V591.7M1361.67,640.4V650.7M1346.17,581.39H1377.17M1346.17,650.7H1377.17M1464.35,539.8V550.1M1464.35,598.8V609.11M1448.85,539.8H1479.85M1448.85,609.11H1479.85M1567.04,539.8V550.1M1567.04,598.8V609.11M1551.54,539.8H1582.54M1551.54,609.11H1582.54M1669.72,539.8V550.1M1669.72,598.8V609.11M1654.22,539.8H1685.22M1654.22,609.11H1685.22M1772.4,512.07V522.38M1772.4,571.08V581.39M1756.9,512.07H1787.9M1756.9,581.39H1787.9M1875.09,512.07V522.38M1875.09,571.08V581.39M1859.59,512.07H1890.59M1859.59,581.39H1890.59M1977.77,525.93V536.24M1977.77,584.94V595.25M1962.27,525.93H1993.27M1962.27,595.25H1993.27M2080.45,484.34V494.65M2080.45,543.35V553.66M2064.95,484.34H2095.95M2064.95,553.66H2095.95M2183.13,470.48V480.79M2183.13,529.49V539.8M2167.63,470.48H2198.63M2167.63,539.8H2198.63" stroke="#0000FF"/>
<path d="M437.52,1244.9V1245.29M437.52,1289.99V1290.37M422.02,1244.9H453.02M422.02,1290.37H453.02M540.21,1011.16V1023.47M540.21,1068.17V1080.48M524.71,1011.16H555.71M524.71,1080.48H555.71M642.89,858.66V870.97M642.89,915.67V927.98M627.39,858.66H658.39M627.39,927.98H658.39M745.57,747.75V760.06M745.57,804.76V817.07M730.07,747.75H761.07M730.07,817.07H761.07M848.26,622.98V635.29M848.26,679.99V692.3M832.76,622.98H863.76M832.76,692.3H863.76M950.94,512.07V524.38M950.94,569.08V581.39M935.44,512.07H966.44M935.44,581.39H966.44M1053.62,442.75V455.06M1053.62,499.76V512.07M1038.12,442.75H1069.12M1038.12,512.07H1069.12M1156.3,387.3V399.6M1156.3,444.3V456.61M1140.8,387.3H1171.8M1140.8,456.61H1171.8M1258.99,345.7V358.01M1258.99,402.71V415.02M1243.49,345.7H1274.49M1243.49,415.02H1274.49M1361.67,345.7V358.01M1361.67,402.71V415.02M1346.17,345.7H1377.17M1346.17,415.02H1377.17M1464.35,317.98V330.29M1464.35,374.99V387.3M1448.85,317.98H1479.85M1448.85,387.3H1479.85M1567.04,276.39V288.7M1567.04,333.4V345.7M1551.54,276.39H1582.54M1551.54,345.7H1582.54M1669.72,262.52V274.83M1669.72,319.53V331.84M1654.22,262.52H1685.22M1654.22,331.84H1685.22M1772.4,248.66V260.97M1772.4,305.67V317.98M1756.9,248.66H1787.9M1756.9,317.98H1787.9M1875.09,262.52V274.83M1875.09,319.53V331.84M1859.59,262.52H1890.59M1859.59,331.84H1890.59M1977.77,220.93V233.24M1977.77,277.94V290.25M1962.27,220.93H1993.27M1962.27,290.25H1993.27M2080.45,220.93V233.24M2080.45,277.94V290.25M2064.95,220.93H2095.95M2064.95,290.25H2095.95M2183.13,193.2V205.51M2183.13,250.21V262.52M2167.63,193.2H2198.63M2167.63,262.52H2198.63" stroke="#00FFFF"/>
</g>
<g font-family="NanumGothic, Liberation Sans, sans-serif" font-size="61.5" fill="#000" stroke="#000" stroke-width="0.5">
<text transform="translate(250.6,1460.86) scale(0.9745,1)" text-anchor="end">20</text>
<text transform="translate(250.6,1183.59) scale(0.9745,1)" text-anchor="end">40</text>
<text transform="translate(250.6,906.32) scale(0.9745,1)" text-anchor="end">60</text>
<text transform="translate(250.6,629.05) scale(0.9745,1)" text-anchor="end">80</text>
<text transform="translate(250.6,351.77) scale(0.9745,1)" text-anchor="end">100</text>
<text transform="translate(250.6,74.5) scale(0.9745,1)" text-anchor="end">120</text>
<text transform="translate(334.84,1665.5) scale(0.9745,1)" text-anchor="middle">0</text>
<text transform="translate(540.21,1665.5) scale(0.9745,1)" text-anchor="middle">20</text>
<text transform="translate(745.57,1665.5) scale(0.9745,1)" text-anchor="middle">40</text>
<text transform="translate(950.94,1665.5) scale(0.9745,1)" text-anchor="middle">60</text>
<text transform="translate(1156.3,1665.5) scale(0.9745,1)" text-anchor="middle">80</text>
<text transform="translate(1361.67,1665.5) scale(0.9745,1)" text-anchor="middle">100</text>
<text transform="translate(1567.04,1665.5) scale(0.9745,1)" text-anchor="middle">120</text>
<text transform="translate(1772.4,1665.5) scale(0.9745,1)" text-anchor="middle">140</text>
<text transform="translate(1977.77,1665.5) scale(0.9745,1)" text-anchor="middle">160</text>
<text transform="translate(2183.13,1665.5) scale(0.9745,1)" text-anchor="middle">180</text>
<text transform="translate(2388.5,1665.5) scale(0.9745,1)" text-anchor="middle">200</text>
</g>
<clipPath id="tc"><rect x="0" y="1700" width="2453" height="111.6"/><rect x="1370" y="1800" width="30" height="30"/></clipPath>
<g clip-path="url(#tc)"><text font-family="NanumGothic, Liberation Sans, sans-serif" font-size="67.4" transform="translate(1222.1,1811) scale(1.02,1)">T<tspan dx="5.1">i</tspan><tspan dx="-1.76">m</tspan><tspan dx="-3.33">e</tspan><tspan dx="-3.33">,</tspan> <tspan dx="3.33">s</tspan></text></g>
<clipPath id="cc"><rect x="0" y="645.8" width="200" height="100"/></clipPath>
<g font-family="NanumGothic, Liberation Sans, sans-serif" fill="#000">
<text font-size="67.8" transform="translate(84.2,1136.7) rotate(-90) scale(0.971,1)">T<tspan dx="4.94">e</tspan><tspan dx="2.47">m</tspan><tspan dx="-2.47">p</tspan><tspan dx="-1.65">e</tspan><tspan dx="1.65">r</tspan><tspan dx="-0.82">a</tspan><tspan dx="2.47">t</tspan><tspan dx="-6.59">u</tspan><tspan dx="-0.82">r</tspan><tspan dx="1.24">e</tspan><tspan dx="-2.06">,</tspan></text>
<text font-size="38" transform="translate(38.3,707) rotate(-90) scale(1.067,1)">o</text>
<g clip-path="url(#cc)"><text font-size="68.5" transform="translate(84.3,688.6) rotate(-90)">C</text></g>
</g>
<rect x="358.7" y="104.7" width="377.6" height="592.8" fill="none" stroke="#000" stroke-width="4.6"/>
<rect x="431.9" y="199.9" width="41.1" height="40" rx="1.5" fill="#000000"/>
<text font-family="NanumGothic, Liberation Sans, sans-serif" font-size="61.5" stroke="#000" stroke-width="0.5" transform="translate(554.2,245) scale(0.993,1)">12 V</text>
<ellipse cx="452.65" cy="311.25" rx="23.4" ry="22.8" fill="#FF0000"/>
<text font-family="NanumGothic, Liberation Sans, sans-serif" font-size="61.5" stroke="#000" stroke-width="0.5" transform="translate(554.2,336.95) scale(0.993,1)">15 V</text>
<polygon points="450,373.7 455,373.7 479.3,419.8 425.6,419.8" fill="#00FF00"/>
<text font-family="NanumGothic, Liberation Sans, sans-serif" font-size="61.5" stroke="#000" stroke-width="0.5" transform="translate(554.2,428.9) scale(0.993,1)">20 V</text>
<polygon points="425.6,480 479.3,480 455,525.8 450,525.8" fill="#0000FF"/>
<text font-family="NanumGothic, Liberation Sans, sans-serif" font-size="61.5" stroke="#000" stroke-width="0.5" transform="translate(554.2,520.85) scale(0.993,1)">24 V</text>
<polygon points="453.5,558.5 482.4,587.25 453.5,616 424.6,587.25" fill="#00FFFF"/>
<text font-family="NanumGothic, Liberation Sans, sans-serif" font-size="61.5" stroke="#000" stroke-width="0.5" transform="translate(554.2,612.8) scale(0.993,1)">27 V</text>
</svg>
</body></html>
